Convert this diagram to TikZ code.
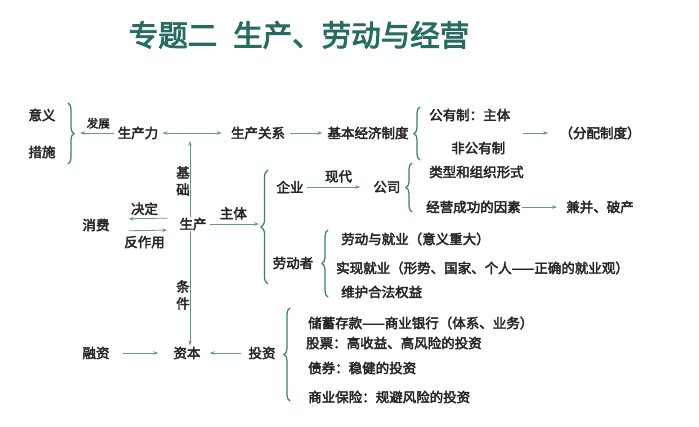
\documentclass[tikz,border=0pt]{standalone}
\usepackage{fontspec}
\setmainfont{Noto Sans CJK SC}[FakeBold=3]
\usetikzlibrary{arrows.meta,decorations.pathreplacing,positioning}
\definecolor{ttl}{RGB}{38,108,96}
\definecolor{lnk}{RGB}{105,150,138}
\definecolor{brc}{RGB}{55,128,112}

\tikzset{
  txt/.style={font=\fontsize{13.5}{17}\selectfont, text=black!85, inner sep=1pt},
  small/.style={font=\fontsize{11.5}{14}\selectfont, text=black!85, inner sep=1pt},
  arr/.style={lnk, line width=0.8pt, -{Stealth[length=5pt,width=3.5pt]}},
  dbl/.style={lnk, line width=0.8pt, {Stealth[length=5pt,width=3.5pt]}-{Stealth[length=5pt,width=3.5pt]}},
  curly/.style={brc, line width=1.2pt, decorate, decoration={brace, amplitude=#1}},
  curly/.default=6pt
}

\begin{document}
\begin{tikzpicture}[x=1pt,y=-1pt]
  \useasboundingbox[fill=white] (0,0) rectangle (699,426);

  % title
  \node[font=\fontsize{29.5}{31}\selectfont, text=ttl, inner sep=0pt] (title) at (299,35) {专题二\hspace{16pt}生产、劳动与经营};

  % productive forces and relations
  \node[txt] (yy) at (42,115) {意义};
  \node[txt] (cs) at (42,152) {措施};
  \draw[curly] (68,103) -- (68,164);
  \coordinate (fz) at (80,133);
  \node[txt] (scl) at (138,133) {生产力};
  \node[txt] (scgx) at (258,133) {生产关系};
  \node[txt] (jbzd) at (368,133) {基本经济制度};
  \draw[curly] (420,160) -- (420,107);
  \node[txt, anchor=west] (gyz) at (428,115) {公有制：主体};
  \node[txt, anchor=west] (fgyz) at (450,148) {非公有制};
  \coordinate (fp) at (523,133);
  \node[txt] (fpzd) at (600,133) {（分配制度）};

  \draw[arr, shorten <=3pt] (scl.west) -- (fz) node[small, midway, above=3pt] {发展};
  \draw[dbl, shorten <=3pt, shorten >=8pt] (scl.east) -- (scgx.west);
  \draw[arr, shorten <=4pt, shorten >=4pt] (scgx.east) -- (jbzd.west);
  \draw[arr, shorten >=10pt] (fp) -- (fpzd.west);

  % production
  \node[txt] (sc) at (193,224) {生产};
  \node[txt] (xf) at (96,225) {消费};
  \coordinate (jc) at (190,141);
  \draw[arr] (sc.north -| jc) -- (jc);
  \node[txt, align=center] (jichu) at (183,181) {基\\础};
  \draw[arr, shorten <=11pt, shorten >=18pt] ([yshift=6pt]sc.west) -- ([yshift=6pt]xf.east) node[txt, midway, above=2pt] {决定};
  \draw[arr, shorten <=18pt, shorten >=11pt] ([yshift=-6pt]xf.east) -- ([yshift=-6pt]sc.west) node[txt, midway, below=4pt] {反作用};

  % main bodies
  \draw[curly=7pt] (268,284) -- (268,170);
  \coordinate (zt) at (259,224);
  \draw[arr, shorten <=2pt] (sc.east) -- (zt) node[txt, midway, above=3pt] {主体};

  \node[txt] (qy) at (290,187) {企业};
  \node[txt] (gs) at (387,187) {公司};
  \draw[arr, shorten <=2pt, shorten >=12pt] (qy.east) -- (gs.west) node[txt, midway, above=3pt] {现代};
  \draw[curly] (412,212) -- (412,163);
  \node[txt, anchor=west] (lx) at (428,172) {类型和组织形式};
  \node[txt, anchor=west] (jy) at (425,207) {经营成功的因素};
  \node[txt] (jbpc) at (600,207) {兼并、破产};
  \draw[arr, shorten >=8pt] (jy.east) -- (jbpc.west);

  \node[txt] (ldz) at (293,263) {劳动者};
  \draw[curly] (328,297) -- (328,230);
  \node[txt, anchor=west] (ld1) at (340,239) {劳动与就业（意义重大）};
  \node[txt, anchor=west] (ld2) at (335,268) {实现就业（形势、国家、个人——正确的就业观）};
  \node[txt, anchor=west] (ld3) at (340,292) {维护合法权益};

  % capital
  \node[txt] (zb) at (187,353) {资本};
  \node[txt] (rz) at (96,353) {融资};
  \node[txt] (tz) at (262,353) {投资};
  \draw[arr] (sc.south -| jc) -- (zb.north -| jc);
  \node[txt, align=center] (tiaojian) at (183,295) {条\\件};
  \draw[arr, shorten <=12pt, shorten >=14pt] (rz.east) -- (zb.west);
  \draw[arr, shorten <=6pt, shorten >=8pt] (tz.west) -- (zb.east);
  \draw[curly] (290,401) -- (290,308);
  \node[txt, anchor=west] (tz1) at (307,323) {储蓄存款——商业银行（体系、业务）};
  \node[txt, anchor=west] (tz2) at (305,343) {股票：高收益、高风险的投资};
  \node[txt, anchor=west] (tz3) at (307,368) {债券：稳健的投资};
  \node[txt, anchor=west] (tz4) at (307,397) {商业保险：规避风险的投资};
\end{tikzpicture}
\end{document}
